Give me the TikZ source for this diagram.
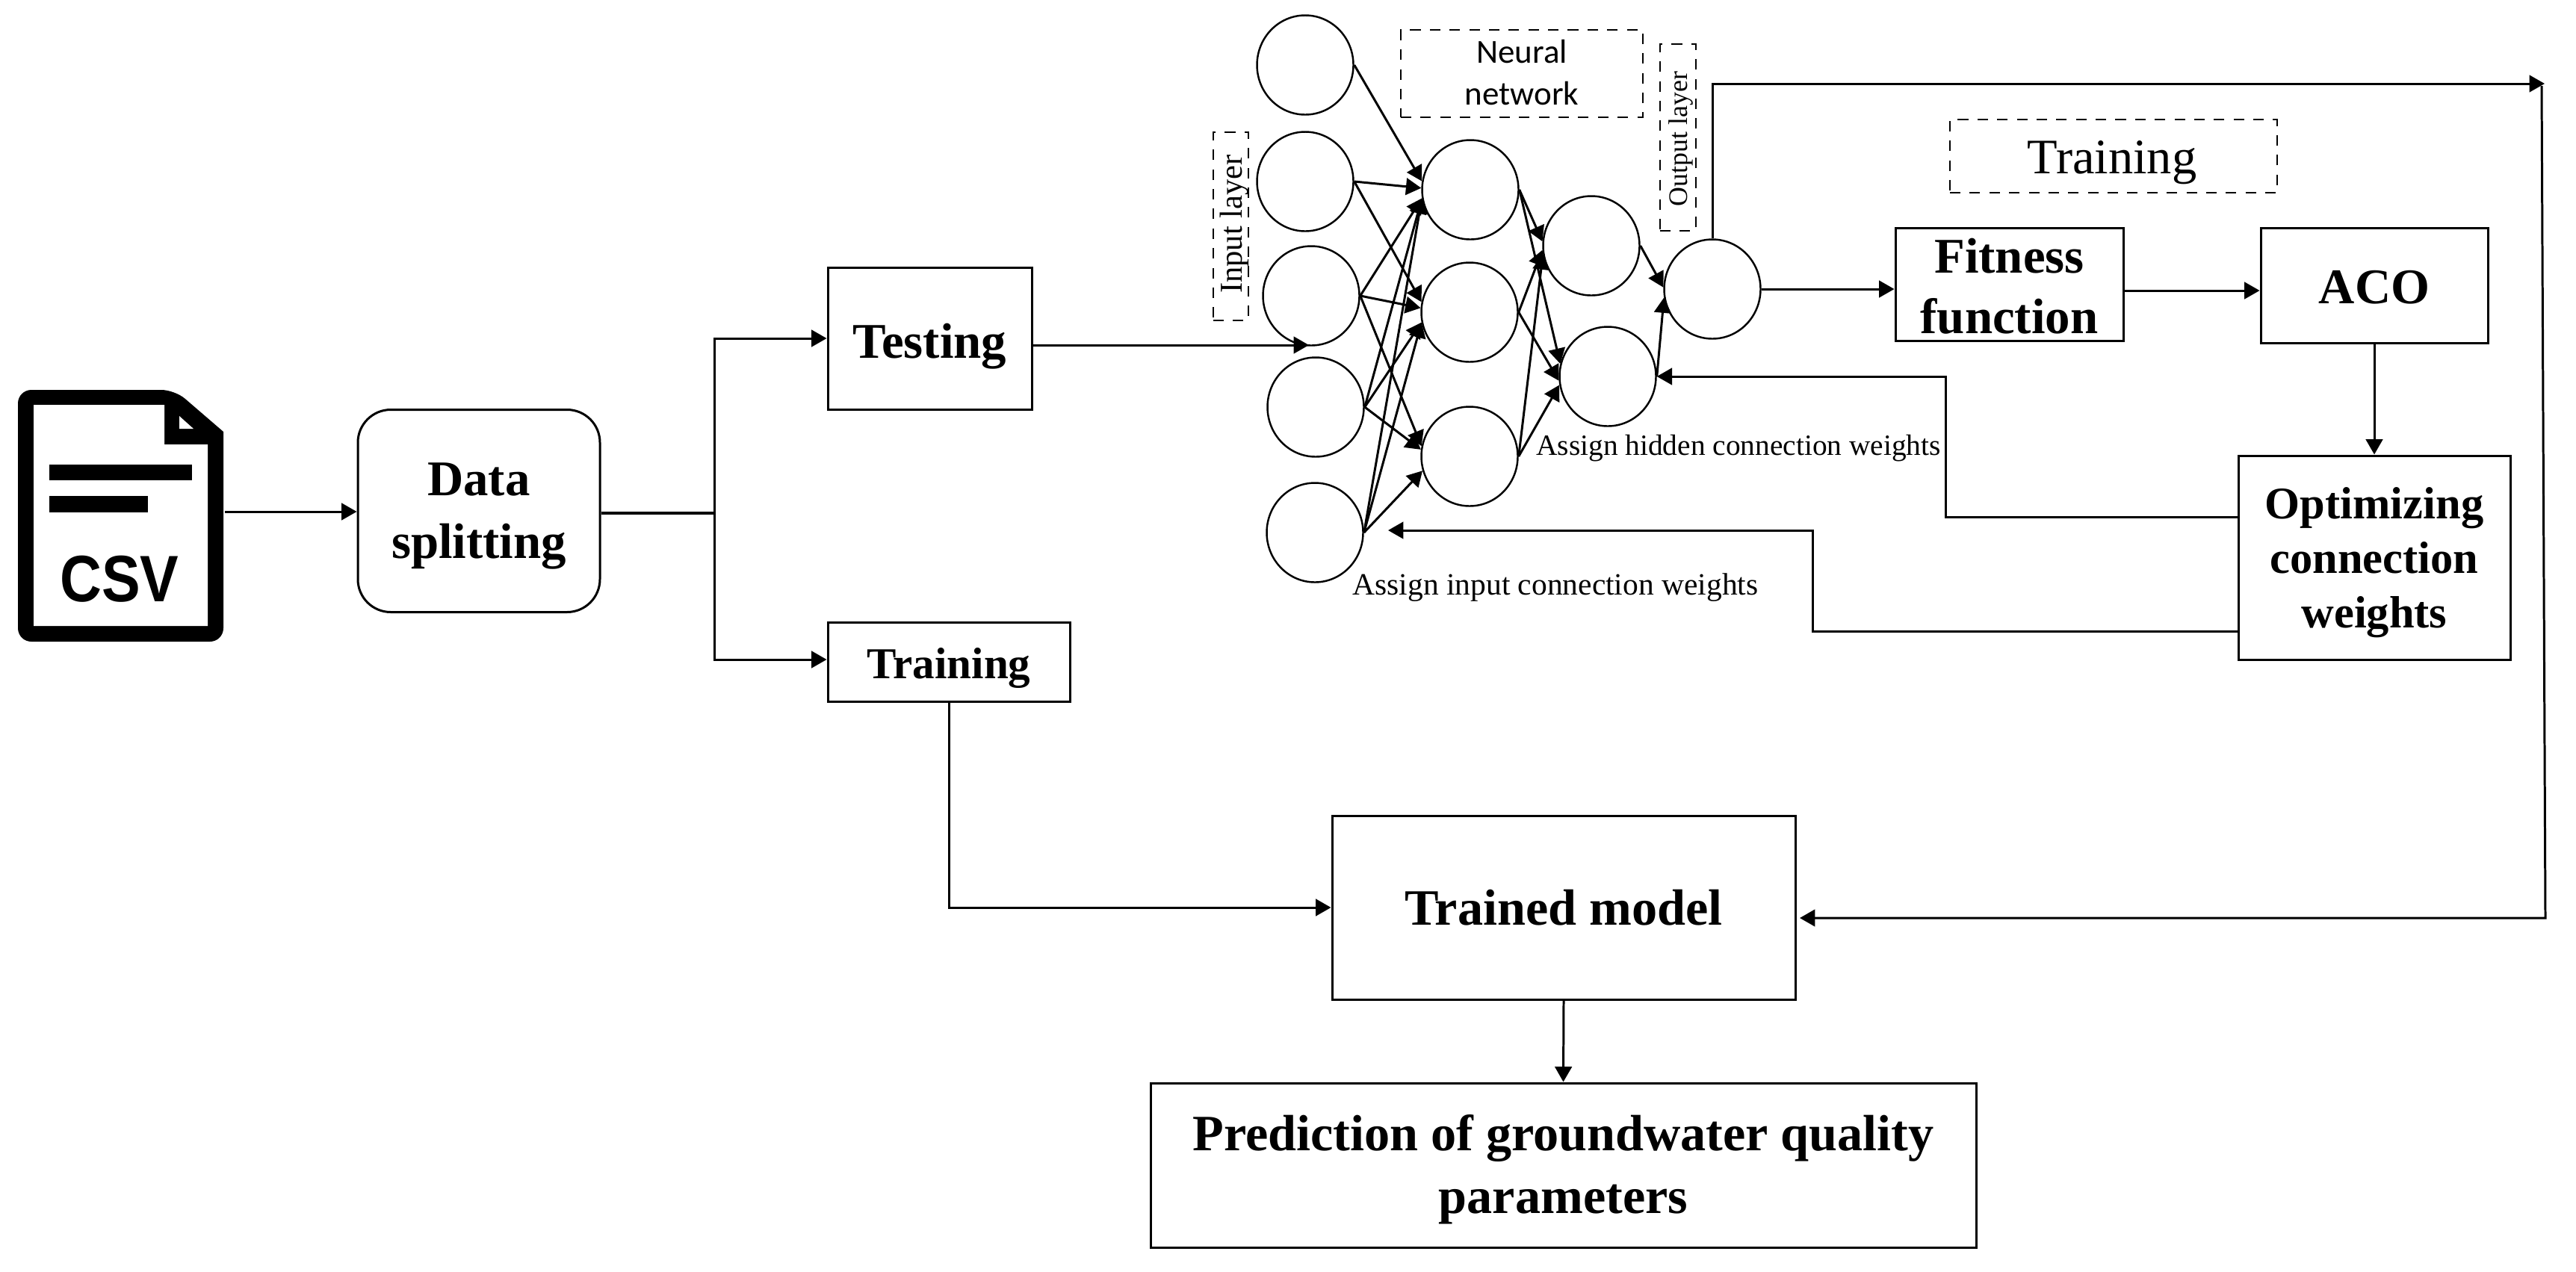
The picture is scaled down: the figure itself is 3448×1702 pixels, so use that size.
\documentclass[tikz,border=0pt]{standalone}
\usepackage{fontspec}
\setmainfont{Liberation Serif}
\newfontfamily\callabel{Carlito}
\newfontfamily\csvlabel{Liberation Sans}[FakeStretch=0.88]
\usetikzlibrary{arrows.meta,shapes.geometric}

\newcommand{\fsz}[1]{\fontsize{#1}{#1}\selectfont}
\newcommand{\pxu}{*0.01cm}

\tikzset{
  every path/.style={line width=0.85pt},
  >={Triangle[length=5.8pt,width=6.4pt]},
  neuron/.style={draw,ellipse,line width=0.7pt,minimum width=129\pxu,minimum height=133\pxu,inner sep=0pt},
  box/.style={draw,rectangle,align=center,inner sep=0pt,font=\bfseries\fsz{19}},
  dashbox/.style={draw,rectangle,line width=0.8pt,inner sep=0pt,dash pattern=on 4pt off 3.5pt},
  plain/.style={inner sep=0pt,align=center},
}
\begin{document}
\begin{tikzpicture}[x=0.01cm,y=-0.01cm]
\useasboundingbox (0,0) rectangle (3448,1702);

% csv icon
\fill[rounded corners=18\pxu] (24,600) -- (24,522) -- (234,522) [sharp corners] -- (299,578) [rounded corners=18\pxu] -- (299,859) -- (24,859) -- cycle;
\fill[white] (45,542) -- (220,542) -- (220,595) -- (278,595) -- (278,838) -- (45,838) -- cycle;
\fill[white] (240,557) -- (240,574) -- (259,574) -- cycle;
\fill (66,622) rectangle (257,643);
\fill (66,664) rectangle (198,686);
\node[plain,font=\csvlabel\bfseries\fsz{25}] (csvtxt) at (160,775) {CSV};
\coordinate (csv) at (301,685);

% left part
\node[box,rounded corners=44\pxu,minimum width=324\pxu,minimum height=271\pxu] (split) at (641,684) {};
\node[plain,font=\bfseries\fsz{19}] (splittxt) at (641,691) {Data\\[5pt]splitting};
\node[box,minimum width=273\pxu,minimum height=190\pxu] (test) at (1244.5,453) {};
\node[plain,font=\bfseries\fsz{19}] (testtxt) at (1244.5,464) {Testing};
\node[box,minimum width=324\pxu,minimum height=106\pxu] (train) at (1270,886) {};
\node[plain,font=\bfseries\fsz{16.8}] (traintxt) at (1270,895) {Training};
\node[box,minimum width=620\pxu,minimum height=246\pxu,font=\bfseries\fsz{19.4}] (model) at (2093,1215) {Trained model};
\node[box,minimum width=1105\pxu,minimum height=220\pxu] (pred) at (2092.5,1560) {};
\node[plain,font=\bfseries\fsz{19.4}] (predtxt) at (2092.5,1566) {Prediction of groundwater quality\\[4.5pt]parameters};
\coordinate (fork) at (956,687);

% network
\node[neuron] (I1) at (1747,87) {};
\node[neuron] (I2) at (1747,243) {};
\node[neuron] (I3) at (1755,396) {};
\node[neuron] (I4) at (1761,545) {};
\node[neuron] (I5) at (1760,713) {};
\node[neuron] (H1) at (1968,254) {};
\node[neuron] (H2) at (1967,418) {};
\node[neuron] (H3) at (1967,611) {};
\node[neuron] (Ha) at (2130,329) {};
\node[neuron] (Hb) at (2152,504) {};
\node[neuron] (O) at (2292,387) {};

\node[dashbox,minimum width=47\pxu,minimum height=252\pxu] (inbox) at (1647.5,303) {};
\node[dashbox,minimum width=324\pxu,minimum height=117\pxu] (nnbox) at (2037,98.5) {};
\node[dashbox,minimum width=48\pxu,minimum height=250\pxu] (outbox) at (2246,184) {};
\node[dashbox,minimum width=438\pxu,minimum height=98\pxu] (trbox) at (2829,209) {};

\node[plain,rotate=90,font=\fsz{12.1}] (inlab) at (1652,300) {Input layer};
\node[plain,rotate=90,font=\fsz{10.2}] (outlab) at (2250,186) {Output layer};
\node[plain,font=\callabel\fsz{12.8}] (nnlab) at (2037,97) {Neural\\[3pt]network};
\node[plain,font=\fsz{18.9}] (trlab) at (2827,218) {Training};
\node[plain,font=\fsz{11.2}] (hidlab) at (2327,600) {Assign hidden connection weights};
\node[plain,font=\fsz{11.8}] (inplab) at (2082,787) {Assign input connection weights};

% right part
\node[box,minimum width=305\pxu,minimum height=151\pxu] (fit) at (2689.5,380.5) {};
\node[plain,font=\bfseries\fsz{19}] (fittxt) at (2689.5,383) {Fitness\\[4pt]function};
\node[box,minimum width=304\pxu,minimum height=154\pxu] (aco) at (3178,382) {};
\node[plain,font=\bfseries\fsz{19}] (acotxt) at (3178,385) {ACO};
\node[box,minimum width=364\pxu,minimum height=273\pxu] (opt) at (3178,746.5) {};
\node[plain,font=\bfseries\fsz{17.2}] (opttxt) at (3178,753) {Optimizing\\[3.5pt]connection\\[3.5pt]weights};

% main flow
\draw[->] (csv) -- (split.west |- csv);
\draw[line width=1.4pt] (split.east |- fork) -- (fork);
\draw[->] (fork) |- (test.west);
\draw[->] (fork) |- (train.west |- 0,883);
\draw[->] (test.east |- 0,462) -- (1752,462);
\draw[->] (train.south) |- (model.west);
\draw[->] (model.south) -- (pred.north);

% input to hidden
\draw[->] (I1.east) -- (H1.170);
\draw[->] (I2.east) -- (H1.178);
\draw[->] (I2.east) -- (H2.168);
\draw[->] (I3.east) -- (H1.190);
\draw[->] (I3.east) -- (H2.175);
\draw[->] (I3.east) -- (H3.168);
\foreach \j/\a in {1/190,2/192,3/172}
  \draw[->] (I4.east) -- (H\j.\a);
\foreach \j/\a in {1/190,2/192,3/197}
  \draw[->] (I5.east) -- (H\j.\a);

% hidden to hidden
\foreach \i/\a/\b in {1/175/165,2/185/185,3/190/190}{
  \draw[->] (H\i.east) -- (Ha.\a);
  \draw[->] (H\i.east) -- (Hb.\b);
}
\draw[->] (Ha.east) -- (O.178);
\draw[->] (Hb.east) -- (O.190);

% output and training loop
\coordinate (topr) at (3406,112);
\coordinate (vtop) at (3402,115);
\coordinate (botr) at (3407,1229);
\draw[->] (O.north) |- (topr);
\draw[->] (vtop) -- (botr) -- (2409,1229);
\draw[->] (O.east) -- (fit.west |- O.east);
\draw[->] (fit.east |- 0,389) -- (aco.west |- 0,389);
\draw[->] (aco.south) -- (opt.north);
\draw[->] (opt.west |- 0,692) -| (2604,504) -- (Hb.east);
\draw[->] (opt.west |- 0,845) -| (2426,710) -- (1858,710);
\end{tikzpicture}
\end{document}
